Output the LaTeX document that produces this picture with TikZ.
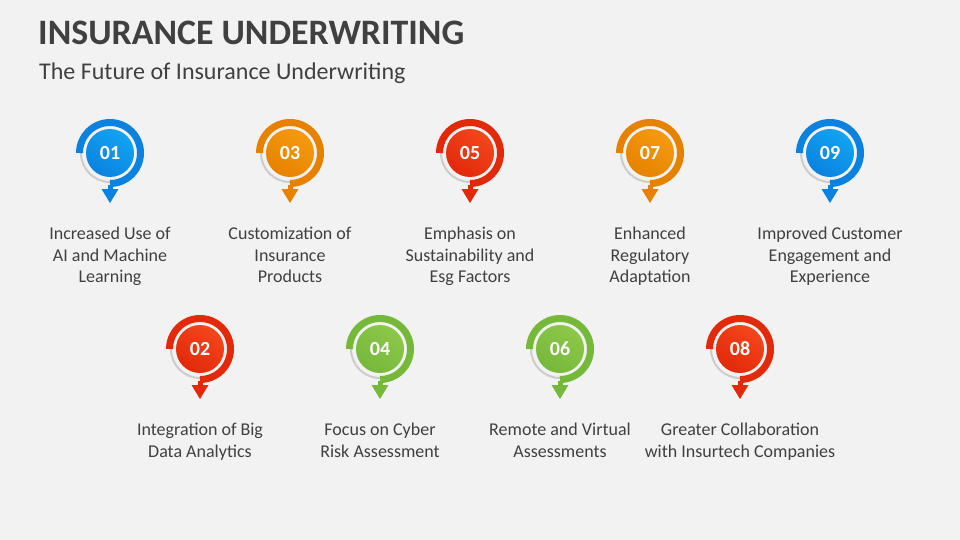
\documentclass[tikz,border=0pt]{standalone}
\usepackage{fontspec}
\setmainfont{Carlito}
\usetikzlibrary{positioning}
\definecolor{bgpage}{HTML}{F2F2F2}
\definecolor{inktext}{HTML}{404040}
\definecolor{iblue}{HTML}{0B82E0}
\definecolor{iblueL}{HTML}{12A4F2}
\definecolor{ired}{HTML}{E2290A}
\definecolor{iredL}{HTML}{F4461C}
\definecolor{iorange}{HTML}{E68200}
\definecolor{iorangeL}{HTML}{F59A10}
\definecolor{igreen}{HTML}{76B83A}
\definecolor{igreenL}{HTML}{8CC84A}

\begin{document}
\begin{tikzpicture}[x=1pt, y=1pt,
    numdisc/.style={circle, minimum size=48pt, inner sep=0pt, text=white,
        font=\fontsize{20}{20}\selectfont\bfseries,
        shading=axis, top color=#1L, bottom color=#1, shading angle=-35},
    steplabel/.style={align=center, inner sep=0pt, text=inktext,
        font=\fontsize{18}{21.5}\selectfont},
    ring/.pic={
        \draw[gray!40, line width=2pt] (-29,0) arc[start angle=180, end angle=270, radius=29];
        \draw[#1, line width=7pt] (-30.5,0) arc[start angle=180, end angle=-90, radius=30.5];
        \draw[#1, line width=5pt] (0,-32) -- (0,-37);
        \fill[#1] (-8.5,-36) -- (8.5,-36) -- (0,-50) -- cycle;
    }]
    \useasboundingbox (0,0) rectangle (960,-540);
    \fill[bgpage] (0,0) rectangle (960,-540);

    \node[anchor=base west, inner sep=0pt, text=inktext, font=\fontsize{35.8}{36}\selectfont\bfseries] (title) at (38,-45) {INSURANCE UNDERWRITING};
    \node[anchor=base west, inner sep=0pt, text=inktext, font=\fontsize{24}{24}\selectfont] (subtitle) at (39,-80) {The Future of Insurance Underwriting};

    % top row: odd steps
    \node[numdisc=iblue] (s1) at (110,-153) {01};
    \node[numdisc=iorange] (s3) at (290,-153) {03};
    \node[numdisc=ired] (s5) at (470,-153) {05};
    \node[numdisc=iorange] (s7) at (650,-153) {07};
    \node[numdisc=iblue] (s9) at (830,-153) {09};

    % bottom row: even steps
    \node[numdisc=ired] (s2) at (200,-349) {02};
    \node[numdisc=igreen] (s4) at (380,-349) {04};
    \node[numdisc=igreen] (s6) at (560,-349) {06};
    \node[numdisc=ired] (s8) at (740,-349) {08};

    \pic at (s1) {ring=iblue};
    \pic at (s3) {ring=iorange};
    \pic at (s5) {ring=ired};
    \pic at (s7) {ring=iorange};
    \pic at (s9) {ring=iblue};
    \pic at (s2) {ring=ired};
    \pic at (s4) {ring=igreen};
    \pic at (s6) {ring=igreen};
    \pic at (s8) {ring=ired};

    \node[steplabel, below=50pt of s1] (t1) {Increased Use of\\AI and Machine\\Learning};
    \node[steplabel, below=50pt of s3] (t3) {Customization of\\Insurance\\Products};
    \node[steplabel, below=50pt of s5] (t5) {Emphasis on\\Sustainability and\\Esg Factors};
    \node[steplabel, below=50pt of s7] (t7) {Enhanced\\Regulatory\\Adaptation};
    \node[steplabel, below=50pt of s9] (t9) {Improved Customer\\Engagement and\\Experience};

    \node[steplabel, below=50pt of s2] (t2) {Integration of Big\\Data Analytics};
    \node[steplabel, below=50pt of s4] (t4) {Focus on Cyber\\Risk Assessment};
    \node[steplabel, below=50pt of s6] (t6) {Remote and Virtual\\Assessments};
    \node[steplabel, below=50pt of s8] (t8) {Greater Collaboration\\with Insurtech Companies};
\end{tikzpicture}
\end{document}
